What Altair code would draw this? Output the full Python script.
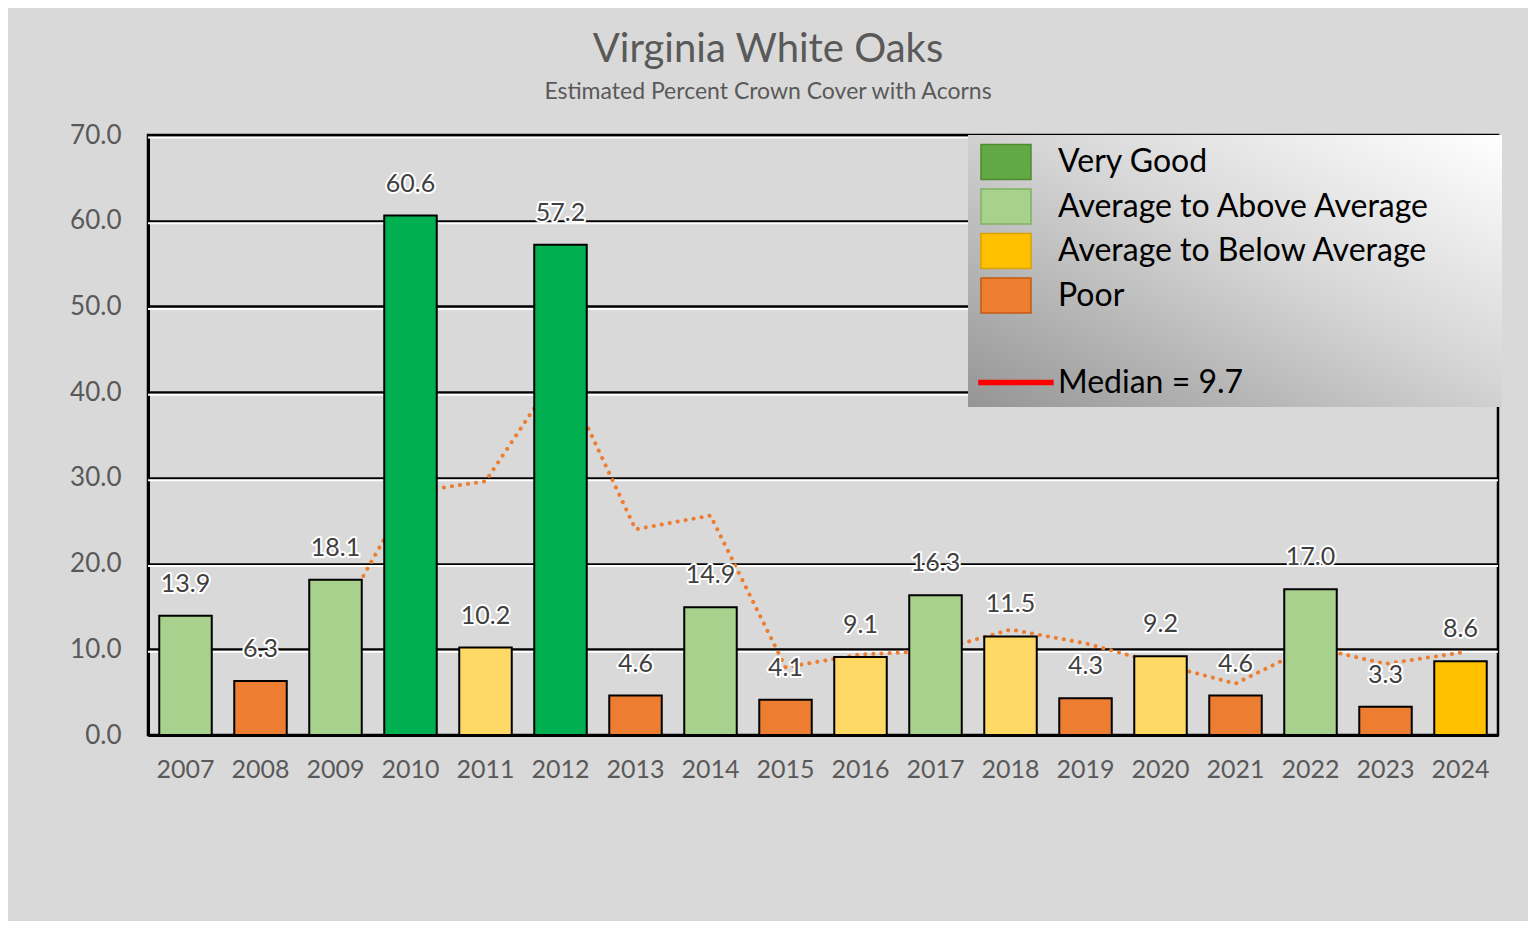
import altair as alt
import pandas as pd

# ---- data ----
years = ["2007", "2008", "2009", "2010", "2011", "2012", "2013", "2014", "2015",
         "2016", "2017", "2018", "2019", "2020", "2021", "2022", "2023", "2024"]
values = [13.9, 6.3, 18.1, 60.6, 10.2, 57.2, 4.6, 14.9, 4.1,
          9.1, 16.3, 11.5, 4.3, 9.2, 4.6, 17.0, 3.3, 8.6]
ratings = ["Average to Above Average", "Poor", "Average to Above Average", "Very Good",
           "Average to Below Average", "Very Good", "Poor", "Average to Above Average", "Poor",
           "Average to Below Average", "Average to Above Average", "Average to Below Average",
           "Poor", "Average to Below Average", "Poor", "Average to Above Average", "Poor",
           "Average to Below Average"]
# dotted orange trend line (starts at 2009)
trend = [None, None, 12.8, 28.3, 29.6, 42.7, 24.0, 25.6, 7.9,
         9.4, 9.8, 12.3, 10.7, 8.3, 6.0, 10.3, 8.3, 9.6]
highlight_year = "2024"

tick_values = [0, 10, 20, 30, 40, 50, 60, 70]

legend_items = ["Very Good", "Average to Above Average", "Average to Below Average",
                "Poor", " ", "Median = 9.7"]

# ---- styles ----
bar_domain = ["Very Good", "Average to Above Average", "Average to Below Average", "Poor"]
bar_range = ["#00b050", "#a9d18e", "#ffd966", "#ed7d31"]
legend_fill = ["#62a844", "#a9d18e", "#ffc000", "#ed7d31", "transparent", "#ff0000"]
legend_stroke = ["#4f8a32", "#7fb35e", "#d9a200", "#c55a11", "transparent", "#ff0000"]
sq = "M-0.78,-0.97H2V0.97H-0.78Z"
line_sym = "M-0.89,-0.11H3.22V0.11H-0.89Z"
legend_shape = [sq, sq, sq, sq, sq, line_sym]

FONT = "Lato"

df = pd.DataFrame({"year": years, "value": values, "rating": ratings, "trend": trend})
grid_df = pd.DataFrame({"v": tick_values[1:]})
leg_df = pd.DataFrame({"item": legend_items})

x_enc = alt.X("year:N", sort=years,
              scale=alt.Scale(paddingInner=0.3, paddingOuter=0.15),
              axis=alt.Axis(title=None, labelAngle=0, ticks=False, domain=True,
                            domainColor="black", domainWidth=3,
                            labelFontSize=25, labelColor="#595959", labelFont=FONT,
                            labelPadding=22))
y_scale = alt.Scale(domain=[0, 70], nice=False)
y_axis = alt.Axis(title=None, values=tick_values, format=".1f", grid=True,
                  gridColor="black", gridWidth=2.5, domainColor="black", domainWidth=3,
                  ticks=False, labelFontSize=26, labelColor="#595959", labelFont=FONT,
                  labelPadding=27)

base = alt.Chart(df)

shadow = alt.Chart(grid_df).mark_rule(color="white", strokeWidth=2, yOffset=2.5).encode(
    y=alt.Y("v:Q", scale=y_scale, axis=y_axis)
)

trend_line = base.mark_line(color="#ed7d31", strokeWidth=4, strokeDash=[0.1, 8],
                            strokeCap="round").encode(
    x=x_enc,
    y=alt.Y("trend:Q", scale=y_scale, axis=y_axis),
).transform_filter("isValid(datum.trend)")

bars = base.mark_bar(stroke="black", strokeWidth=2).encode(
    x=x_enc,
    y=alt.Y("value:Q", scale=y_scale, axis=y_axis),
    color=alt.condition(alt.datum.year == highlight_year, alt.value("#ffc000"),
                        alt.Color("rating:N", scale=alt.Scale(domain=bar_domain, range=bar_range),
                                  legend=None)),
)

label_halo = base.mark_text(fontSize=25, font=FONT, baseline="middle", dy=-32,
                            color="white", stroke="white", strokeWidth=4,
                            strokeJoin="round").encode(
    x=x_enc, y=alt.Y("value:Q", scale=y_scale, axis=y_axis),
    text=alt.Text("value:Q", format=".1f"))
labels = base.mark_text(fontSize=25, font=FONT, baseline="middle", dy=-32,
                        color="#404040").encode(
    x=x_enc, y=alt.Y("value:Q", scale=y_scale, axis=y_axis),
    text=alt.Text("value:Q", format=".1f"))

leg = alt.Legend(title=" ", titleOrient="right", titlePadding=64, titleFontSize=10,
                 orient="none", legendX=820, legendY=0,
                 symbolSize=1296, symbolStrokeWidth=1.5,
                 labelFontSize=32, labelFont=FONT, labelColor="#000000", labelLimit=700,
                 labelOffset=44, rowPadding=2.5, padding=8,
                 fillColor={"expr": "{gradient: 'linear', x1: 0, y1: 1, x2: 1, y2: 0, "
                                    "stops: [{offset: 0, color: '#959595'}, "
                                    "{offset: 0.55, color: '#d6d6d6'}, "
                                    "{offset: 1, color: '#ffffff'}]}"})

legend_layer = alt.Chart(leg_df).mark_point(filled=True, opacity=1).encode(
    fill=alt.Fill("item:N", scale=alt.Scale(domain=legend_items, range=legend_fill), legend=leg),
    stroke=alt.Stroke("item:N", scale=alt.Scale(domain=legend_items, range=legend_stroke), legend=leg),
    shape=alt.Shape("item:N", scale=alt.Scale(domain=legend_items, range=legend_shape), legend=leg),
).transform_filter("false")

chart = alt.layer(shadow, trend_line, bars, label_halo, labels, legend_layer).properties(
    width=1350, height=600,
    background="#d9d9d9",
    autosize=alt.AutoSizeParams(type="none"),
    padding={"left": 140, "top": 127, "right": 30, "bottom": 186},
    title=alt.TitleParams("Virginia White Oaks",
                          subtitle="Estimated Percent Crown Cover with Acorns",
                          anchor="middle", dx=-55, offset=18,
                          font=FONT, fontSize=40, fontWeight="normal", color="#595959",
                          subtitleFont=FONT, subtitleFontSize=23, subtitleColor="#595959",
                          subtitlePadding=11),
).configure_view(stroke="black", strokeWidth=2.5)

chart.save("out.html", embed_options={"renderer": "svg", "actions": False})
